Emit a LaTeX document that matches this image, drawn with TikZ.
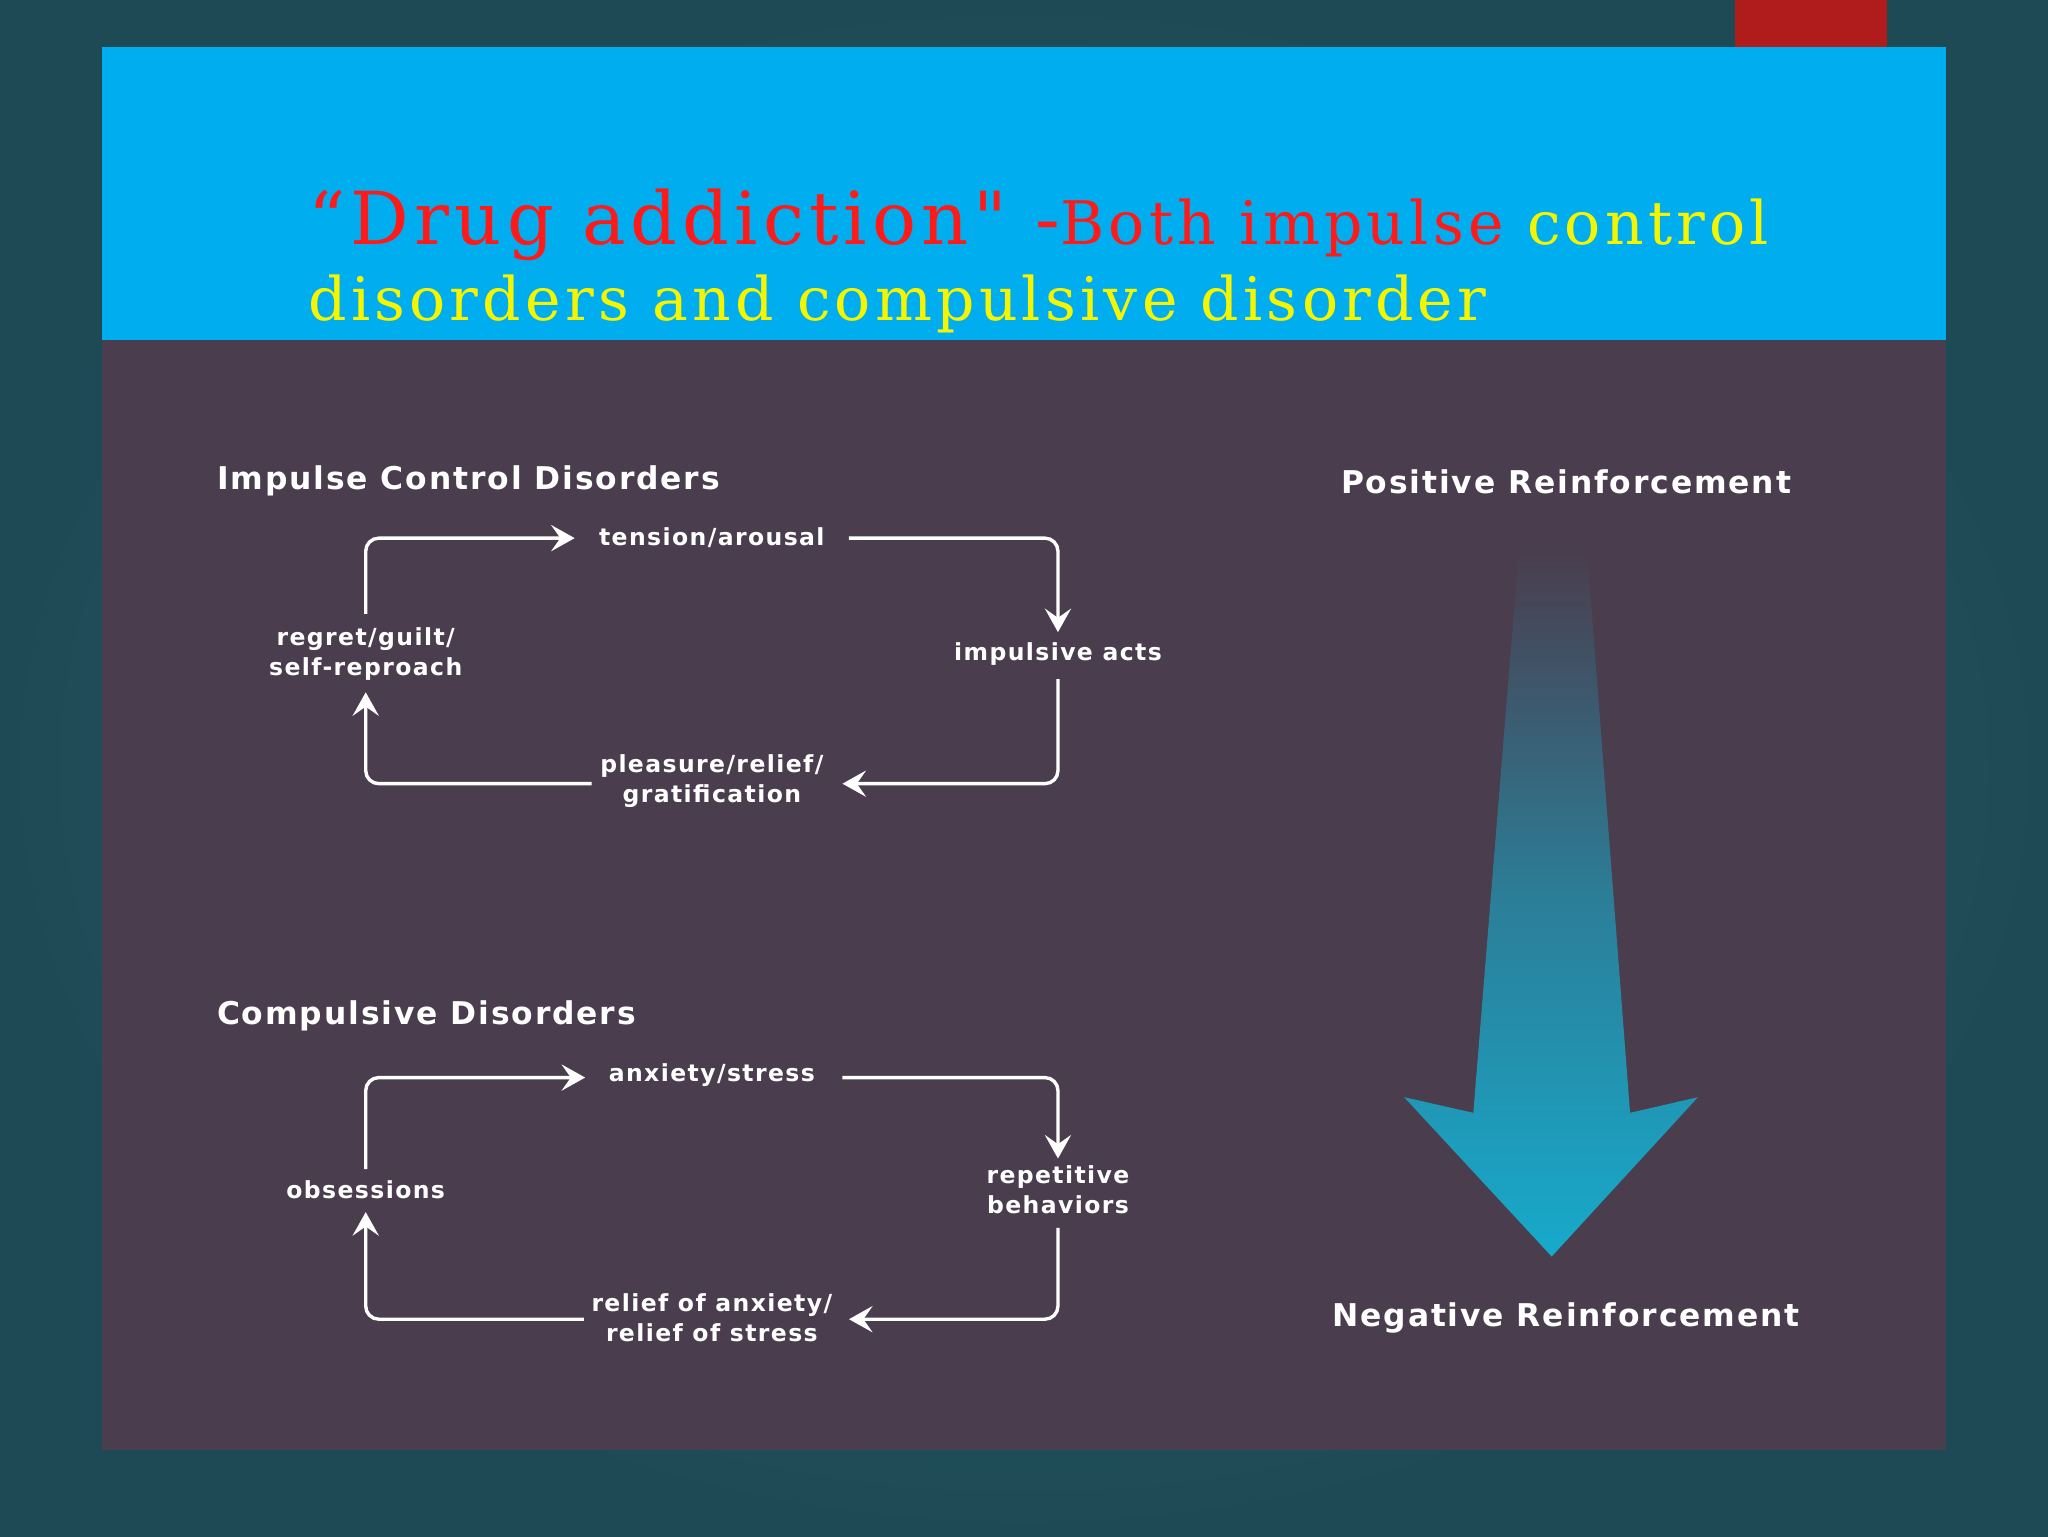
\documentclass[tikz,border=0pt]{standalone}
\usepackage{fontspec}
\setmainfont{Liberation Serif}
\setsansfont[LetterSpace=6]{DejaVu Sans}
\newfontfamily\titlefont[LetterSpace=7]{DejaVu Serif}
\usetikzlibrary{arrows.meta}
\definecolor{bgteal}{HTML}{1E4A55}
\definecolor{bgmid}{HTML}{2B6468}
\definecolor{hdr}{HTML}{00AEEF}
\definecolor{panel}{HTML}{4A3D4D}
\definecolor{redbox}{HTML}{B01C1C}
\definecolor{tred}{HTML}{FF1A1A}
\definecolor{tyel}{HTML}{F5F500}
\definecolor{cyanar}{HTML}{17AACB}
\tikzset{
 lbl/.style={text=white,font=\sffamily\bfseries\fontsize{18}{23}\selectfont,align=center,inner sep=0pt},
 hd/.style={text=white,font=\sffamily\bfseries\fontsize{24}{28}\selectfont,inner sep=0pt},
 cyc/.style={draw=white,line width=2.6pt,rounded corners=10pt,-{Stealth[length=18pt,width=20pt,inset=7pt]}}
}
\begin{document}
\begin{tikzpicture}[x=1pt,y=-1pt]
\useasboundingbox (0,0) rectangle (1568,1176);
\shade[inner color=bgmid,outer color=bgteal] (0,0) rectangle (1568,1176);
\fill[redbox] (1328,0) rectangle (1445,36);
\fill[hdr] (78,36) rectangle (1490,260);
\fill[panel] (78,260) rectangle (1490,1110);
\node[anchor=base west,inner sep=0pt] (t1) at (236,187) {\titlefont\fontsize{56}{70}\selectfont\textcolor{tred}{“Drug addiction" -}\fontsize{46}{60}\selectfont\textcolor{tred}{Both impulse }\textcolor{tyel}{control}};
\node[anchor=base west,inner sep=0pt] (t2) at (236,245) {\titlefont\fontsize{46}{60}\selectfont\textcolor{tyel}{disorders and compulsive disorder}};
% cycle 1
\node[hd,anchor=west] (h1) at (166,368) {Impulse Control Disorders};
\node[lbl] (a1) at (545,412) {tension/arousal};
\node[lbl] (b1) at (810,501) {impulsive acts};
\node[lbl] (c1) at (545,598) {pleasure/relief/\\gratification};
\node[lbl] (d1) at (280,501) {regret/guilt/\\self-reproach};
\coordinate (a1l) at (440,412); \coordinate (a1r) at (650,412);
\coordinate (c1l) at (453,600); \coordinate (c1r) at (645,600);
\draw[cyc] (280,470) |- (a1l);
\draw[cyc] (a1r) -| (810,484);
\draw[cyc] (810,520) |- (c1r);
\draw[cyc] (c1l) -| (280,530);
% cycle 2
\node[hd,anchor=west] (h2) at (166,778) {Compulsive Disorders};
\node[lbl] (a2) at (545,823) {anxiety/stress};
\node[lbl] (b2) at (810,911) {repetitive\\behaviors};
\node[lbl] (c2) at (545,1009) {relief of anxiety/\\relief of stress};
\node[lbl] (d2) at (280,911) {obsessions};
\coordinate (a2l) at (448,825); \coordinate (a2r) at (645,825);
\coordinate (c2l) at (447,1010); \coordinate (c2r) at (650,1010);
\draw[cyc] (280,895) |- (a2l);
\draw[cyc] (a2r) -| (810,887);
\draw[cyc] (810,940) |- (c2r);
\draw[cyc] (c2l) -| (280,928);
% right
\node[hd] (pr) at (1199,369) {Positive Reinforcement};
\node[hd] (nr) at (1199,1009) {Negative Reinforcement};
\shade[top color=panel,bottom color=cyanar,middle color=cyanar!60!panel]
 (1163,420) -- (1215,420) -- (1248,852) -- (1300,840) -- (1188,962) -- (1075,840) -- (1128,852) -- cycle;
\end{tikzpicture}
\end{document}
